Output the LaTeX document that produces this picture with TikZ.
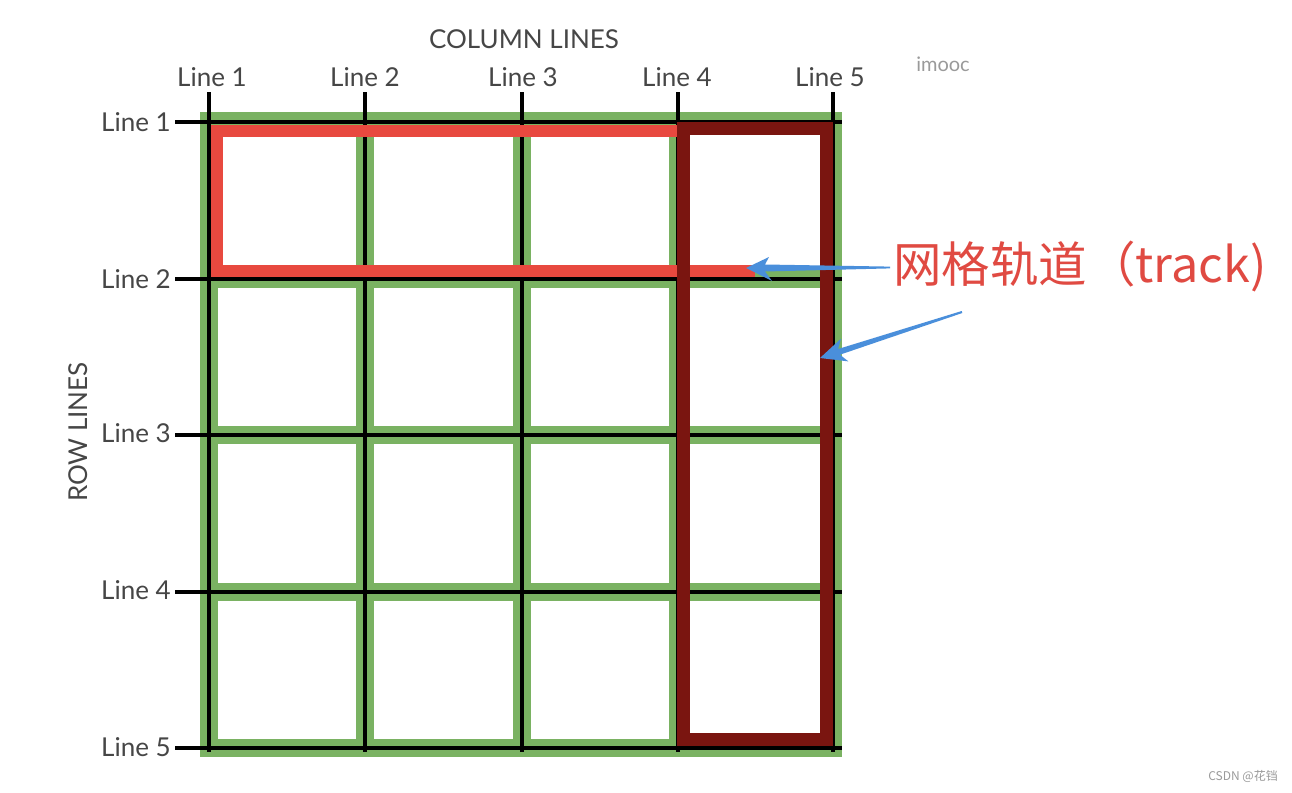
\documentclass[tikz,border=0pt]{standalone}
\usepackage{fontspec}
\setmainfont{Lato}
\newfontfamily\cjk{Noto Sans CJK SC}
\usetikzlibrary{calc}
\definecolor{gridgreen}{HTML}{7AB262}
\definecolor{trackred}{HTML}{E8493F}
\definecolor{darktrack}{HTML}{7A1510}
\definecolor{arrowblue}{HTML}{4A8FDB}
\definecolor{labgray}{HTML}{464646}
\definecolor{wmgray}{HTML}{9A9A9A}
\definecolor{titlered}{HTML}{E04A42}
\begin{document}
\begin{tikzpicture}[x=1pt,y=-1pt,
  lab/.style={text=labgray,font=\fontsize{26}{26}\selectfont,inner sep=0pt},
  gline/.style={line width=3.5pt,black}]
\useasboundingbox[fill=white] (0,0) rectangle (1292,792);
% green frames
\fill[gridgreen] (200,112) rectangle (842,757);
\foreach \xa/\xb in {209/365,365/522,522/678,678/833}{
  \foreach \ya/\yb in {122/279,279/435,435/592,592/748}{
    \fill[white] (\xa+9,\ya+9) rectangle (\xb-9,\yb-9);
  }
}
% grid lines
\foreach \x [count=\i] in {209,365,522,678,833}{
  \coordinate (ct\i) at (\x,92);
  \coordinate (cb\i) at (\x,752);
  \draw[gline] (ct\i) -- (cb\i);
}
\foreach \y [count=\i] in {122,279,435,592,748}{
  \coordinate (rl\i) at (175,\y);
  \coordinate (rr\i) at (842,\y);
  \draw[gline] (rl\i) -- (rr\i);
}
% row track (red)
\draw[trackred,line width=12pt,miter limit=10] (684,131) -- (217,131) -- (217,271) -- (755,271);
% column track (dark red)
\draw[darktrack,line width=13pt] (683.5,128.5) rectangle (826.5,739);
% labels
\node[lab,anchor=base] (c1) at (212,86) {Line 1};
\node[lab,anchor=base] (c2) at (365,86) {Line 2};
\node[lab,anchor=base] (c3) at (523,86) {Line 3};
\node[lab,anchor=base] (c4) at (677,86) {Line 4};
\node[lab,anchor=base] (c5) at (830,86) {Line 5};
\node[lab,anchor=east] (r1) at (171,122) {Line 1};
\node[lab,anchor=east] (r2) at (171,279) {Line 2};
\node[lab,anchor=east] (r3) at (171,433) {Line 3};
\node[lab,anchor=east] (r4) at (171,590) {Line 4};
\node[lab,anchor=east] (r5) at (171,747) {Line 5};
\node[lab] (coltitle) at (524,39) {COLUMN LINES};
\node[lab,rotate=90] (rowtitle) at (78,432) {ROW LINES};
\node[text=wmgray,font=\fontsize{20}{20}\selectfont,inner sep=0pt] (wm) at (943,64) {imooc};
\node[text=wmgray,font=\cjk\fontsize{12}{12}\selectfont,inner sep=0pt,anchor=east] (csdn) at (1278,776) {CSDN @花铛};
% title
\node[text=titlered,font=\cjk\fontsize{48.5}{48.5}\selectfont,inner sep=0pt,anchor=west] (track) at (893,266) {网格轨道（track)};
% blue arrows
\coordinate (tip1) at (746,268);
\coordinate (tail1) at (890,267.5);
\fill[arrowblue] (tip1) -- (769,257) -- (765,264.5) -- (890,266.6) -- (890,268.4) -- (765,271.5) -- (772,281) -- cycle;
\coordinate (tip2) at (820,358);
\coordinate (tail2) at (962,312);
\fill[arrowblue] (tip2) -- (841,338.6) -- (838.1,349.0) -- (961.7,311.0) -- (962.3,313.0) -- (839.9,354.7) -- (848.4,361.4) -- cycle;
\end{tikzpicture}
\end{document}
